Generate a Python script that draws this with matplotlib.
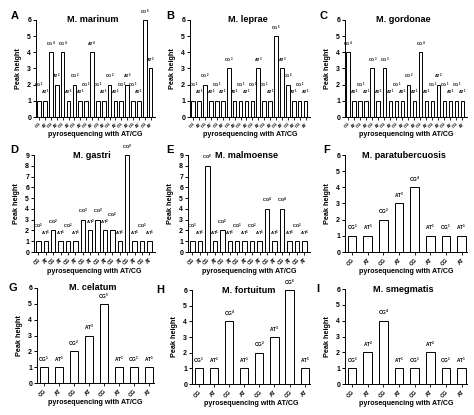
import matplotlib
matplotlib.use("Agg")
import matplotlib.pyplot as plt

plt.rcParams['font.family'] = ['Liberation Sans', 'DejaVu Sans']
plt.rcParams['font.weight'] = 'bold'
plt.rcParams['mathtext.fontset'] = 'custom'
plt.rcParams['mathtext.rm'] = 'Liberation Sans:bold'
plt.rcParams['mathtext.it'] = 'Liberation Sans:bold'
plt.rcParams['mathtext.bf'] = 'Liberation Sans:bold'

# ---- data ----
bases_20 = ["CG", "AT"] * 10
bases_16 = ["CG", "AT"] * 8
bases_8 = ["CG", "AT"] * 4

marinum = [1, 1, 4, 2, 4, 1, 2, 1, 1, 4, 1, 1, 2, 1, 1, 2, 1, 1, 6, 3]
leprae = [1, 1, 2, 1, 1, 1, 3, 1, 1, 1, 1, 3, 1, 1, 5, 3, 2, 1, 1, 1]
gordonae = [4, 1, 1, 1, 3, 1, 3, 1, 1, 1, 2, 1, 4, 1, 1, 2, 1, 1, 1, 1]
gastri = [1, 1, 2, 1, 1, 1, 3, 2, 3, 2, 2, 1, 9, 1, 1, 1]
malmoense = [1, 1, 8, 1, 2, 1, 1, 1, 1, 1, 4, 1, 4, 1, 1, 1]
paratuberculosis = [1, 1, 2, 3, 4, 1, 1, 1]
celatum = [1, 1, 2, 3, 5, 1, 1, 1]
fortuitum = [1, 1, 4, 1, 2, 3, 6, 1]
smegmatis = [1, 2, 4, 1, 1, 2, 1, 1]

panel_letters = ["A", "B", "C", "D", "E", "F", "G", "H", "I"]
titles = ["M. marinum", "M. leprae", "M. gordonae", "M. gastri", "M. malmoense",
          "M. paratubercuosis", "M. celatum", "M. fortuitum", "M. smegmatis"]
values = [marinum, leprae, gordonae, gastri, malmoense, paratuberculosis,
          celatum, fortuitum, smegmatis]
bases = [bases_20, bases_20, bases_20, bases_16, bases_16, bases_8, bases_8, bases_8, bases_8]
ymaxes = [6, 6, 6, 9, 9, 6, 6, 6, 6]

# axes boxes in pixels: left, right, top, bottom
boxes = [(36, 155, 20, 117), (190, 310, 20, 117), (345, 467, 20, 117),
         (34, 155, 155, 252), (188, 310, 155, 252), (345, 467, 155, 252),
         (37, 154, 288, 383), (192, 310, 290, 384), (345, 467, 289, 384)]
letter_xy = [(15, 16), (170, 16), (323, 16), (14, 150), (170, 150), (327, 150),
             (13, 288), (160, 290), (318, 289)]

W, H = 474, 415
fig = plt.figure(figsize=(W / 100, H / 100), dpi=100)
fig.patch.set_facecolor('white')

for k in range(9):
    l, r, t, b = boxes[k]
    ax = fig.add_axes([l / W, 1 - b / H, (r - l) / W, (b - t) / H])
    vals = values[k]
    bs = bases[k]
    n = len(vals)
    ymax = ymaxes[k]
    x = list(range(n))
    if n == 20:
        width, xl, fs_tick, fs_ann = 0.62, (-0.55, 19.75), 3.1, 2.9
    elif n == 16:
        width, xl, fs_tick, fs_ann = 0.6, (-0.6, 15.75), 3.4, 3.1
    else:
        width, xl, fs_tick, fs_ann = 0.55, (-0.45, 7.35), 4.0, 3.4
    ax.bar(x, vals, width=width, color='white', edgecolor='black', linewidth=0.7, zorder=2)
    ax.set_xlim(*xl)
    ax.set_ylim(0, ymax)
    for s in ['top', 'right']:
        ax.spines[s].set_visible(False)
    for s in ['left', 'bottom']:
        ax.spines[s].set_linewidth(0.7)
    ax.set_yticks(range(0, ymax + 1))
    ax.set_xticks(x)
    ax.set_xticklabels(bs, rotation=45, ha='right', va='top', rotation_mode='anchor',
                       fontsize=fs_tick)
    ax.tick_params(axis='y', labelsize=5.0, length=2.5, width=0.7, pad=1)
    ax.tick_params(axis='x', length=2, width=0.6, pad=1.5)
    ax.set_ylabel("Peak height", fontsize=5.2, fontweight='bold', labelpad=4)
    ax.set_xlabel("pyrosequencing with AT/CG", fontsize=5.1, fontweight='bold', labelpad=1.5)

    # annotations: staggered where neighbouring labels would collide
    low = 0.035 * ymax
    high = low + 0.075 * ymax
    txt_h = 0.072 * ymax
    ys = [v + low for v in vals]
    if n > 8:
        base_y = list(ys)
        for i in range(n):
            if bs[i] != "CG":
                continue
            nb = [j for j in (i - 1, i + 1) if 0 <= j < n]
            if any(abs(base_y[j] - base_y[i]) < txt_h for j in nb):
                ys[i] = vals[i] + high
        for i in range(1, n):
            if abs(ys[i] - ys[i - 1]) < txt_h:
                ys[i] = max(ys[i], ys[i - 1] + txt_h)
    for i, v in enumerate(vals):
        ax.text(i, ys[i], f"{bs[i]}$^{{{v}}}$", ha='center', va='bottom',
                fontsize=fs_ann, fontweight='bold', clip_on=False)

    ax.text(0.48, 1.0, titles[k], transform=ax.transAxes, ha='center', va='center',
            fontsize=6.6, fontweight='bold')
    lx, ly = letter_xy[k]
    fig.text(lx / W, 1 - ly / H, panel_letters[k], fontsize=8, fontweight='bold',
             ha='center', va='center')

fig.savefig("out.png", dpi=100, facecolor='white')
